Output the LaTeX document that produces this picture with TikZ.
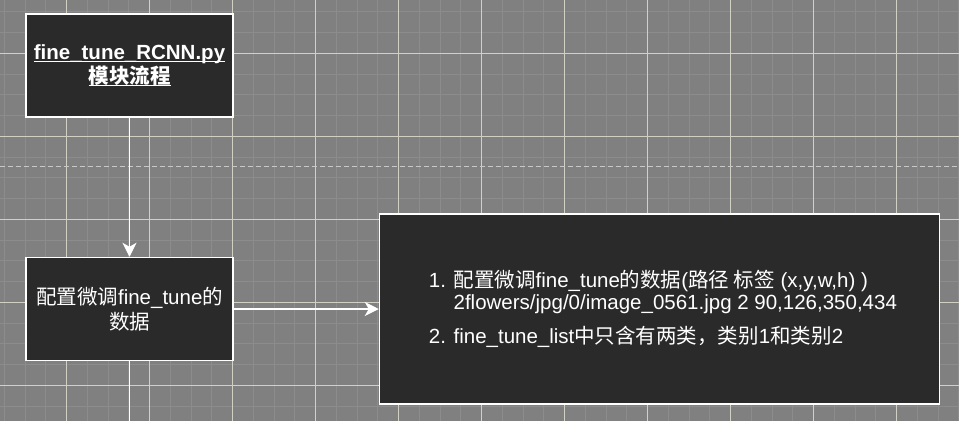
\documentclass[tikz,border=0pt]{standalone}
\usepackage{fontspec}
\setmainfont{Liberation Sans}
\newfontfamily\cjk{Noto Sans CJK SC}
\usepackage{tikz}
\usetikzlibrary{arrows.meta,positioning}
\newcommand\zh[1]{{\cjk #1}}
\newsavebox\ulbox
\newcommand\ulined[1]{\sbox\ulbox{#1}\rlap{\usebox\ulbox}\rule[-2.6pt]{\wd\ulbox}{1.2pt}}
\definecolor{canvas}{HTML}{808080}
\definecolor{minorline}{HTML}{8C8C8C}
\definecolor{majorline}{HTML}{D2D0C4}
\definecolor{dashline}{HTML}{C8C8C8}
\definecolor{boxfill}{HTML}{2A2A2A}

\begin{document}
\begin{tikzpicture}[x=1pt, y=-1pt,
        flowbox/.style={draw=white, line width=1.5pt, fill=boxfill, text=white,
                font=\fontsize{20.5}{24.4}\selectfont, align=center, inner sep=0pt,
                minimum width=207pt, minimum height=103pt},
        notetext/.style={text=white, font=\fontsize{20.5}{22.7}\selectfont,
                align=left, inner sep=0pt},
        link/.style={draw=white, line width=1.5pt,
                -{Stealth[length=14pt, width=14pt, inset=4pt]}},
        wire/.style={draw=white, line width=1.5pt}]
        \useasboundingbox (0,0) rectangle (959,421);
        \fill[canvas] (0,0) rectangle (959,421);
        \foreach \x in {0,...,46}
                \draw[minorline, line width=1pt] ({4.25+20.75*\x},0) -- ++(0,421);
        \foreach \y in {0,...,19}
                \draw[minorline, line width=1pt] (0,{11.8+20.75*\y}) -- ++(959,0);
        \foreach \x in {0,...,10}
                \draw[majorline, line width=1pt] ({66.5+83*\x},0) -- ++(0,421);
        \foreach \y in {0,...,4}
                \draw[majorline, line width=1pt] (0,{53.3+83*\y}) -- ++(959,0);
        \draw[dashline, line width=1.3pt, dash pattern=on 5pt off 3pt] (0,166.7) -- (959,166.7);

        \node[flowbox] (title) at (129.5,65.5)
                {\textbf{\ulined{fine\_tune\_RCNN.py}}\\
                 \textbf{\ulined{\zh{模块流程}}}};
        \node[flowbox, below=139pt of title] (config)
                {\zh{配置微调}fine\_tune\zh{的}\\\zh{数据}};
        \node[flowbox, minimum width=560pt, minimum height=190pt,
                right=145pt of config] (notes) {};
        \node[notetext, anchor=west] (list) at ([xshift=50pt]notes.west)
                {1. \zh{配置微调}fine\_tune\zh{的数据}(\zh{路径 标签} (x,y,w,h) )\\
                 \hphantom{1. }2flowers/jpg/0/image\_0561.jpg 2 90,126,350,434\\[11.3pt]
                 2. fine\_tune\_list\zh{中只含有两类，类别}1\zh{和类别}2};
        \coordinate (next) at (129.5,421);

        \draw[link] (title) -- (config);
        \draw[link] (config) -- (notes);
        \draw[wire] (config) -- (next);
\end{tikzpicture}
\end{document}
